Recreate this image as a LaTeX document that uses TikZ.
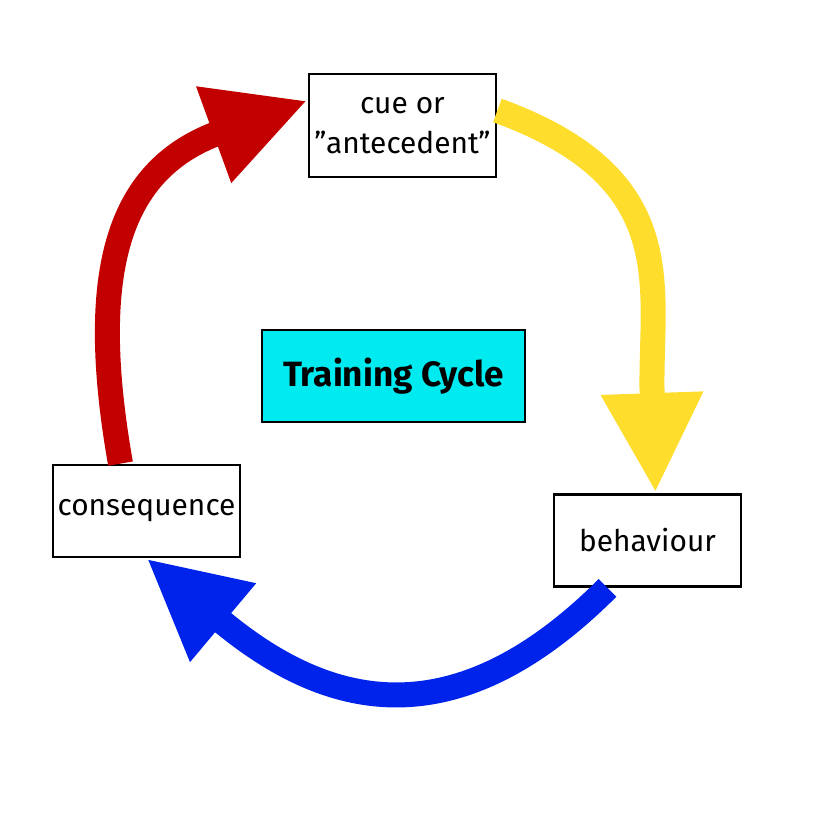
\documentclass[tikz,border=0pt]{standalone}
\usepackage{fontspec}
\setmainfont{Fira Sans}
\usetikzlibrary{arrows.meta}
\definecolor{cycred}{RGB}{195,0,0}
\definecolor{cycyellow}{RGB}{255,221,45}
\definecolor{cycblue}{RGB}{0,35,235}
\definecolor{cyccyan}{RGB}{0,235,240}
\tikzset{%
  % Specifications for style of nodes:
       stage/.style = {rectangle, draw=black, thick, fill=white,
                       minimum width=1.87cm, minimum height=0.92cm,
                       inner sep=1pt, align=center,
                       font=\fontsize{8.5}{11.5}\selectfont},
       title/.style = {stage, fill=cyccyan, minimum width=2.63cm,
                       font=\fontsize{10}{12}\selectfont\bfseries},
        flow/.style = {line width=0.25cm, looseness=1.25,
                       -{Triangle[length=1cm,width=0.95cm]}},
}
\begin{document}
\begin{tikzpicture}
  \useasboundingbox (0,0) rectangle (8.23,8.23);

  \node (cue)   [stage, minimum height=1.03cm] at (4.025,6.975) {cue or\\ \symbol{34}antecedent\symbol{34}};
  \node (beh)   [stage] at (6.475,2.825) {behaviour};
  \node (cons)  [stage] at (1.465,3.12)  {consequence};
  \node (train) [title] at (3.935,4.47) {Training Cycle};

  \draw[flow, cycred]    ([xshift=-0.26cm]cons.north) to[out=100,in=200] ([yshift=0.25cm]cue.west);
  \draw[flow, cycyellow] ([yshift=0.15cm]cue.east)   to[out=-20,in=92]   ([xshift=0.08cm]beh.north);
  \draw[flow, cycblue]   ([xshift=-0.4cm]beh.south)  to[out=-135,in=-40] (cons.south);

\end{tikzpicture}
\end{document}
